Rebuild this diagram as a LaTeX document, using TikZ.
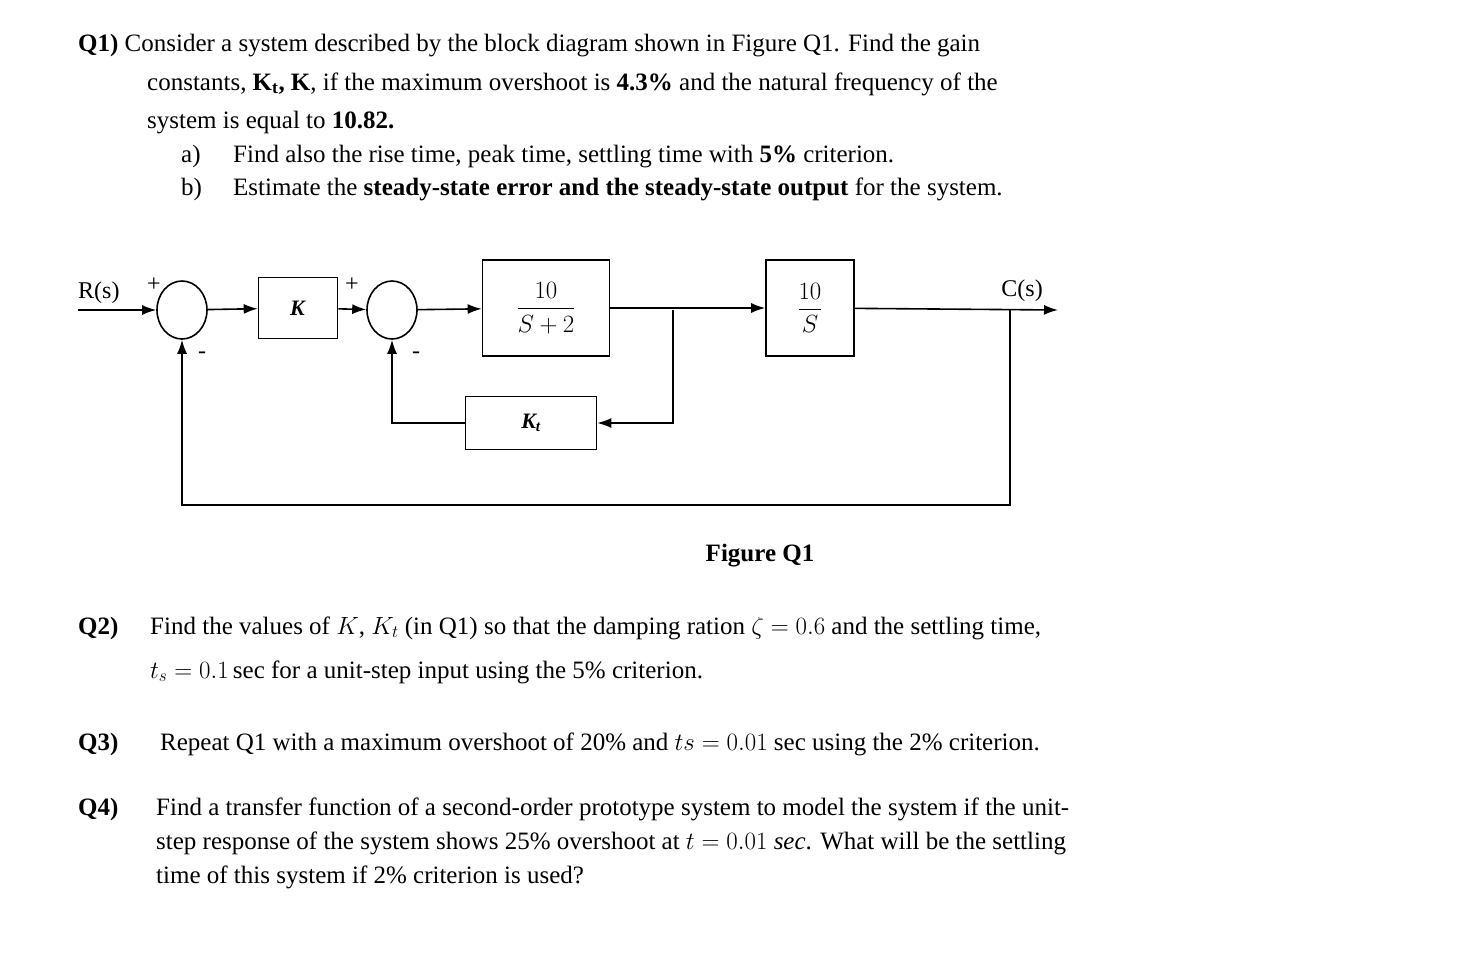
\documentclass[tikz,border=0pt]{standalone}
\usepackage{amsmath}
\usepackage{fontspec}
\setmainfont{Liberation Serif}
\usetikzlibrary{arrows.meta,shapes.geometric}
\begin{document}
\begin{tikzpicture}[x=1pt,y=-1pt,
  txt/.style={anchor=base west,inner sep=0pt,font=\fontsize{25}{30}\selectfont},
  blk/.style={draw,line width=1.6pt,inner sep=0pt},
  sum/.style={draw,ellipse,line width=1.6pt,minimum width=50pt,minimum height=58pt,inner sep=0pt},
  sig/.style={line width=1.6pt,-{Latex[length=14pt,width=10pt]}},
  lab/.style={inner sep=0pt,font=\fontsize{24}{28}\selectfont}]
\useasboundingbox (0,0) rectangle (1464,958);
% text
\node[txt] (t1) at (78,52) {\textbf{Q1)} Consider a system described by the block diagram shown in Figure Q1. Find the gain};
\node[txt] (t2) at (147,90) {constants, $\mathbf{K_t}$\textbf{, K}, if the maximum overshoot is \textbf{4.3\%} and the natural frequency of the};
\node[txt] (t3) at (147,128) {system is equal to \textbf{10.82.}};
\node[txt] (t4a) at (181,162) {a)};
\node[txt] (t4) at (233,162) {Find also the rise time, peak time, settling time with \textbf{5\%} criterion.};
\node[txt] (t5a) at (181,195) {b)};
\node[txt] (t5) at (233,195) {Estimate the \textbf{steady-state error and the steady-state output} for the system.};
\node[txt,anchor=base] (fig) at (760,561) {\textbf{Figure Q1}};
\node[txt] (q2) at (78,634) {\textbf{Q2)}};
\node[txt] (q2a) at (150,634) {Find the values of $K$, $K_t$ (in Q1) so that the damping ration $\zeta = 0.6$ and the settling time,};
\node[txt] (q2b) at (150,678) {$t_s = 0.1\,$sec for a unit-step input using the 5\% criterion.};
\node[txt] (q3) at (78,750) {\textbf{Q3)}};
\node[txt] (q3a) at (160,750) {Repeat Q1 with a maximum overshoot of 20\% and $ts = 0.01$ sec using the 2\% criterion.};
\node[txt] (q4) at (78,815) {\textbf{Q4)}};
\node[txt] (q4a) at (156,815) {Find a transfer function of a second-order prototype system to model the system if the unit-};
\node[txt] (q4b) at (156,849) {step response of the system shows 25\% overshoot at $t = 0.01$ \textit{sec}. What will be the settling};
\node[txt] (q4c) at (156,883) {time of this system if 2\% criterion is used?};
% diagram
\coordinate (rin) at (78,310);
\node[sum] (s1) at (182,310) {};
\node[blk,minimum width=79pt,minimum height=61pt] (k) at (298,308) {\fontsize{22}{26}\selectfont\textbf{\textit{K}}};
\node[sum] (s2) at (392,310) {};
\node[blk,minimum width=127pt,minimum height=96pt] (g1) at (546,308) {\fontsize{25}{30}\selectfont$\dfrac{10}{S+2}$};
\node[blk,minimum width=88pt,minimum height=96pt] (g2) at (810,308) {\fontsize{25}{30}\selectfont$\dfrac{10}{S}$};
\node[blk,minimum width=131pt,minimum height=53pt] (kt) at (531,423) {\fontsize{22}{26}\selectfont\textbf{\textit{K\textsubscript{t}}}};
\coordinate (cout) at (1058,310);
\coordinate (br) at (673,310);
\coordinate (br2) at (1010,310);
\coordinate (bl) at (182,505);
\node[lab,anchor=base west] (rl) at (78,298) {R(s)};
\node[lab,anchor=base east] (cl) at (1043,296) {C(s)};
\node[lab] (p1) at (154,285) {+};
\node[lab] (p2) at (352,285) {+};
\node[lab] (m1) at (202,355) {-};
\node[lab] (m2) at (416,355) {-};
\draw[sig] (rin) -- (s1);
\draw[sig] (s1) -- (k);
\draw[sig] (k) -- (s2);
\draw[sig] (s2) -- (g1);
\draw[sig] (g1) -- (g2);
\draw[sig] (g2) -- (cout);
\draw[sig] (br) |- (kt);
\draw[sig] (kt.west) -| (s2.south);
\draw[sig] (br2) |- (bl) -- (s1.south);
\end{tikzpicture}
\end{document}
